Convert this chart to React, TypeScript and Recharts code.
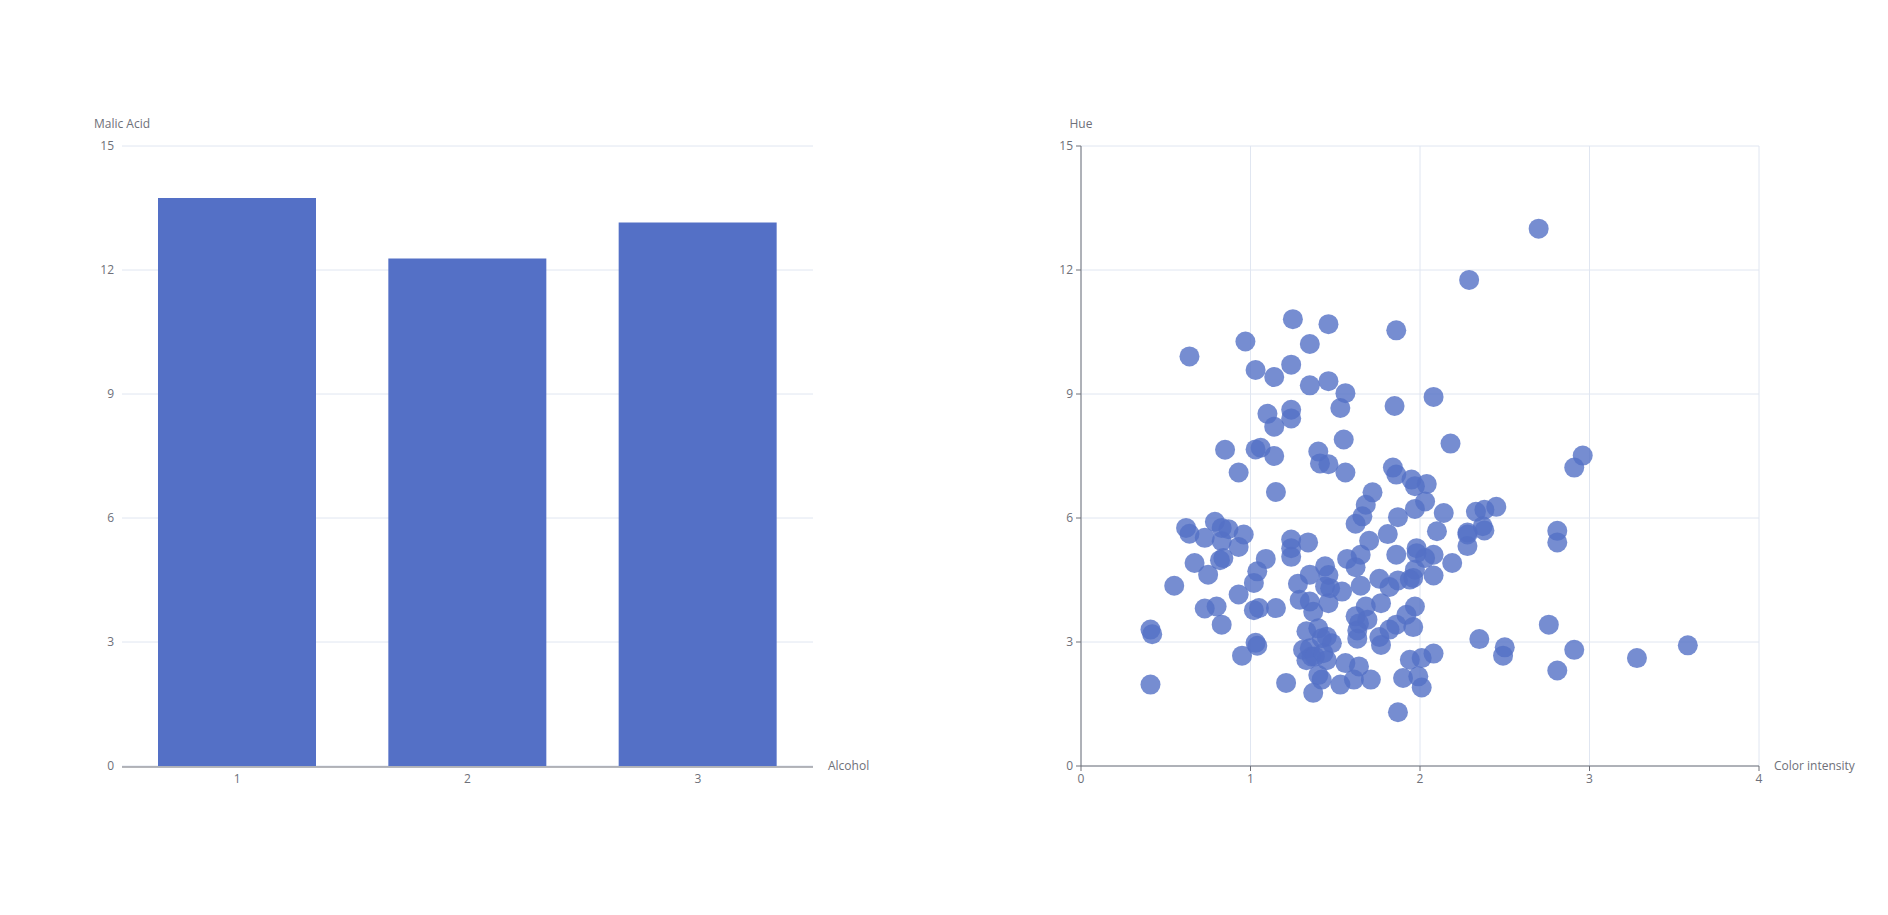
import {
  BarChart,
  Bar,
  ScatterChart,
  Scatter,
  XAxis,
  YAxis,
  CartesianGrid,
} from "recharts";

const classes = ["1", "2", "3"];
const classMeans = [13.74, 12.28, 13.15];
const classEdges = [0.5, 1.5, 2.5, 3.5];
const valueTicks = [0, 3, 6, 9, 12, 15];
const intensityTicks = [0, 1, 2, 3, 4];

// [color intensity, hue]
const points: [number, number][] = [
  [2.7, 13.0], [2.29, 11.76], [1.25, 10.81], [1.46, 10.69], [1.86, 10.54],
  [0.97, 10.27], [0.64, 9.91], [1.35, 10.21], [1.24, 9.71], [1.03, 9.58],
  [1.14, 9.41], [1.35, 9.21], [1.46, 9.31], [1.56, 9.02], [1.53, 8.66],
  [1.85, 8.71], [2.08, 8.93], [1.1, 8.52], [1.24, 8.62], [1.24, 8.41],
  [1.14, 8.21], [1.55, 7.9], [2.18, 7.8], [0.85, 7.65], [1.03, 7.66],
  [1.06, 7.7], [1.14, 7.5], [1.4, 7.61], [2.96, 7.51], [1.41, 7.32],
  [1.46, 7.3], [2.91, 7.22], [1.84, 7.22], [1.86, 7.05], [0.93, 7.1],
  [1.56, 7.1], [1.15, 6.63],
  [0.62, 5.76], [0.64, 5.62], [0.79, 5.91], [0.73, 5.52], [0.83, 5.76],
  [0.87, 5.73], [0.83, 5.44], [0.96, 5.6], [0.93, 5.3], [0.67, 4.91],
  [0.82, 4.98], [0.84, 5.03], [0.75, 4.63], [0.55, 4.36], [1.09, 5.01],
  [1.04, 4.71], [1.02, 4.43], [0.93, 4.15], [1.24, 5.48], [1.24, 5.27],
  [1.24, 5.06], [1.34, 5.41], [1.28, 4.41], [1.35, 4.63],
  [1.95, 6.93], [1.97, 6.77], [2.04, 6.82], [2.03, 6.4], [1.97, 6.22],
  [1.72, 6.62], [1.68, 6.32], [1.66, 6.04], [1.62, 5.86], [1.87, 6.02],
  [1.81, 5.61], [1.7, 5.45], [2.14, 6.12], [2.1, 5.68], [2.33, 6.15],
  [2.38, 6.2], [2.37, 5.8], [2.38, 5.7], [2.28, 5.65], [2.28, 5.6],
  [2.28, 5.32], [2.45, 6.27], [2.81, 5.69], [2.81, 5.41],
  [1.57, 5.01], [1.65, 5.11], [1.62, 4.81], [1.44, 4.83], [1.46, 4.62],
  [1.44, 4.34], [1.47, 4.3], [1.54, 4.22], [1.86, 5.11], [1.98, 5.27],
  [1.98, 5.15], [2.08, 5.11], [2.03, 5.03], [2.19, 4.91], [1.97, 4.75],
  [2.08, 4.61], [1.96, 4.55], [1.94, 4.51], [1.87, 4.49], [1.76, 4.53],
  [1.82, 4.33], [1.65, 4.36],
  [0.73, 3.81], [0.8, 3.86], [0.83, 3.42], [1.02, 3.77], [1.05, 3.82],
  [1.15, 3.82], [0.41, 3.3], [0.42, 3.19], [1.03, 2.98], [1.04, 2.91],
  [0.95, 2.67], [0.41, 1.97], [1.21, 2.01], [1.29, 4.02], [1.35, 3.98],
  [1.33, 3.26], [1.4, 3.33], [1.37, 3.73], [1.37, 1.77],
  [2.35, 3.07], [1.97, 3.86], [1.92, 3.66], [1.96, 3.36], [1.86, 3.42],
  [1.82, 3.3], [1.76, 3.12], [1.77, 2.93], [1.77, 3.94], [1.68, 3.86],
  [1.62, 3.62], [1.64, 3.45], [1.63, 3.28], [1.63, 3.08], [1.69, 3.54],
  [1.94, 2.57], [2.01, 2.61], [2.08, 2.72], [1.9, 2.13], [1.99, 2.17],
  [2.01, 1.9], [1.87, 1.3], [1.56, 2.49], [1.64, 2.41], [1.71, 2.09],
  [1.61, 2.09], [1.53, 1.97], [1.42, 2.09], [1.46, 3.94],
  [2.5, 2.87], [2.49, 2.67], [2.76, 3.42], [2.91, 2.81], [2.81, 2.31],
  [3.28, 2.61], [3.58, 2.92],
  [1.45, 3.13], [1.48, 2.97], [1.42, 3.09], [1.31, 2.81], [1.35, 2.85],
  [1.36, 2.65], [1.33, 2.56], [1.38, 2.65], [1.43, 2.73], [1.45, 2.56],
  [1.4, 2.2],
];

const barData = classes.map((c, i) => ({ cls: c, pos: i + 1, value: classMeans[i] }));
const scatterData = points.map(([x, y]) => ({ x, y }));

const AXIS = "#6E7079";
const GRID = "#E0E6F1";
const BLUE = "#5470c6";
const FONT = "'Open Sans', sans-serif";
const tickStyle = { fill: AXIS, fontSize: 12, fontFamily: FONT };

const nameStyle = (left: number, top: number, center = false): React.CSSProperties => ({
  position: "absolute",
  left,
  top,
  transform: center ? "translate(-50%, -50%)" : "translateY(-50%)",
  color: AXIS,
  fontSize: 12,
  fontFamily: FONT,
  whiteSpace: "nowrap",
});

// big round dot, like an echarts scatter symbol
const Dot = (props: any) => (
  <circle cx={props.cx} cy={props.cy} r={10} fill={BLUE} fillOpacity={0.8} />
);

export default function App() {
  return (
    <div
      style={{
        position: "absolute",
        left: 0,
        top: 0,
        width: 1888,
        height: 915,
        background: "#fff",
      }}
    >
      {/* left: bar chart */}
      <div style={{ position: "absolute", left: 0, top: 0 }}>
        <BarChart
          width={944}
          height={915}
          data={barData}
          margin={{ top: 146, right: 131, bottom: 147, left: 82 }}
        >
          <CartesianGrid stroke={GRID} vertical={false} />
          <XAxis
            xAxisId="edge"
            type="number"
            dataKey="pos"
            domain={[0.5, 3.5]}
            ticks={classEdges}
            tick={false}
            height={1}
            tickSize={5}
            stroke={AXIS}
            allowDataOverflow
          />
          <XAxis
            xAxisId="cat"
            dataKey="cls"
            height={1}
            axisLine={false}
            tickLine={false}
            tickSize={5}
            tickMargin={3}
            tick={tickStyle}
          />
          <YAxis
            domain={[0, 15]}
            ticks={valueTicks}
            width={40}
            axisLine={false}
            tickLine={false}
            tickSize={5}
            tickMargin={3}
            tick={tickStyle}
          />
          <Bar
            xAxisId="cat"
            dataKey="value"
            fill={BLUE}
            barSize={158}
            isAnimationActive={false}
          />
        </BarChart>
      </div>

      {/* right: scatter chart */}
      <div style={{ position: "absolute", left: 944, top: 0 }}>
        <ScatterChart
          width={944}
          height={915}
          margin={{ top: 146, right: 129, bottom: 119, left: 97 }}
        >
          <CartesianGrid stroke={GRID} />
          <XAxis
            type="number"
            dataKey="x"
            domain={[0, 4]}
            ticks={intensityTicks}
            height={30}
            stroke={AXIS}
            tickSize={5}
            tickMargin={3}
            tick={tickStyle}
          />
          <YAxis
            type="number"
            dataKey="y"
            domain={[0, 15]}
            ticks={valueTicks}
            width={40}
            stroke={AXIS}
            tickSize={5}
            tickMargin={3}
            tick={tickStyle}
          />
          <Scatter data={scatterData} shape={Dot} isAnimationActive={false} />
        </ScatterChart>
      </div>

      <div style={nameStyle(122, 123, true)}>Malic Acid</div>
      <div style={nameStyle(828, 765)}>Alcohol</div>
      <div style={nameStyle(1081, 123, true)}>Hue</div>
      <div style={nameStyle(1774, 765)}>Color intensity</div>
    </div>
  );
}
